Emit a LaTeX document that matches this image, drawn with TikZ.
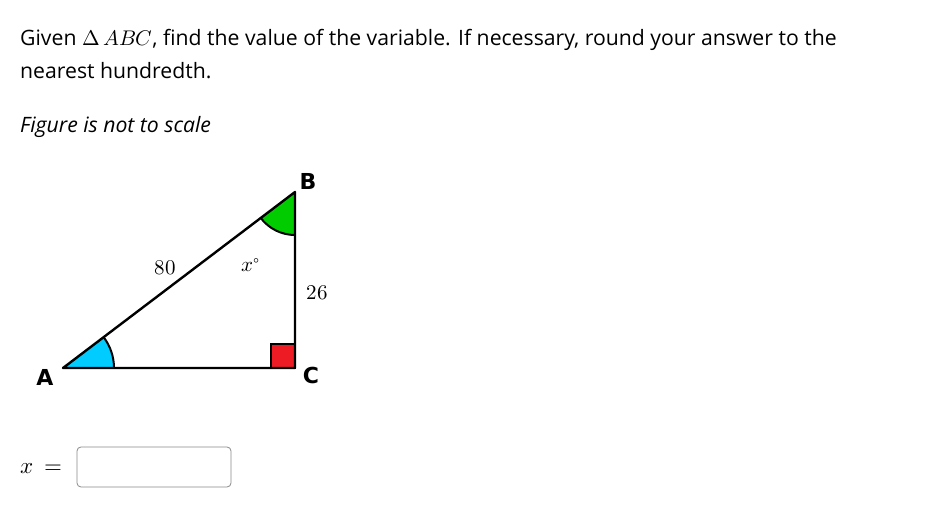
\documentclass[tikz,border=0pt]{standalone}
\usepackage{amsmath}
\usepackage{fontspec}
\usepackage{unicode-math}
\setmainfont{Open Sans}
\setmathfont{Latin Modern Math}
\newfontfamily\vertexfont{DejaVu Sans}
\definecolor{angleblue}{HTML}{00CCFF}
\definecolor{anglegreen}{HTML}{00CC00}
\definecolor{rightred}{HTML}{ED1C24}
\definecolor{boxgray}{HTML}{8A8A8A}
\usetikzlibrary{positioning,calc}

\begin{document}
\begin{tikzpicture}[x=1pt,y=-1pt,
  question/.style={anchor=base west, inner sep=0pt, font=\fontsize{21.2}{25}\selectfont},
  vertex/.style={inner sep=0pt, font=\vertexfont\bfseries\fontsize{22}{22}\selectfont},
  measure/.style={inner sep=0pt, font=\fontsize{21}{21}\selectfont},
  side/.style={line width=2.4pt, line join=round},
  anglemark/.style={line width=2pt}]
  \useasboundingbox[fill=white] (0,0) rectangle (930,510);
  % question text
  \node[question] (q1) at (20,46) {Given $\Delta\,ABC$, find the value of the variable. If necessary, round your answer to the};
  \node[question] (q2) at (20,79) {nearest hundredth.};
  \node[question] (q3) at (20,133) {\itshape Figure is not to scale};
  % triangle corners
  \coordinate (A) at (63,368);
  \coordinate (B) at (295,192);
  \coordinate (C) at (295,368);
  % angle marks
  \fill[angleblue] (A) -- ($(A)!51pt!(C)$) arc[start angle=0, end angle=-37.2, radius=51] -- cycle;
  \draw[anglemark] ($(A)!51pt!(C)$) arc[start angle=0, end angle=-37.2, radius=51];
  \fill[anglegreen] (B) -- ($(B)!43pt!(C)$) arc[start angle=90, end angle=142.8, radius=43] -- cycle;
  \draw[anglemark] ($(B)!43pt!(C)$) arc[start angle=90, end angle=142.8, radius=43];
  \draw[anglemark, fill=rightred] (C) rectangle ++(-24,-24);
  \draw[side] (A) -- (B) -- (C) -- cycle;
  % labels
  \node[vertex] (la) at (45,377) {A};
  \node[vertex] (lb) at (308,181) {B};
  \node[vertex] (lc) at (311,375) {C};
  \node[measure] (l80) at (165,268) {$80$};
  \node[measure] (lx) at (251,265) {$x^{\circ}$};
  \node[measure] (l26) at (317,293) {$26$};
  % answer
  \node[measure, anchor=base west, font=\fontsize{23}{23}\selectfont] (xeq) at (20,474) {$x\:=$};
  \draw[boxgray, line width=0.8pt, rounded corners=4pt] (77,447) rectangle (231,487);
\end{tikzpicture}
\end{document}
